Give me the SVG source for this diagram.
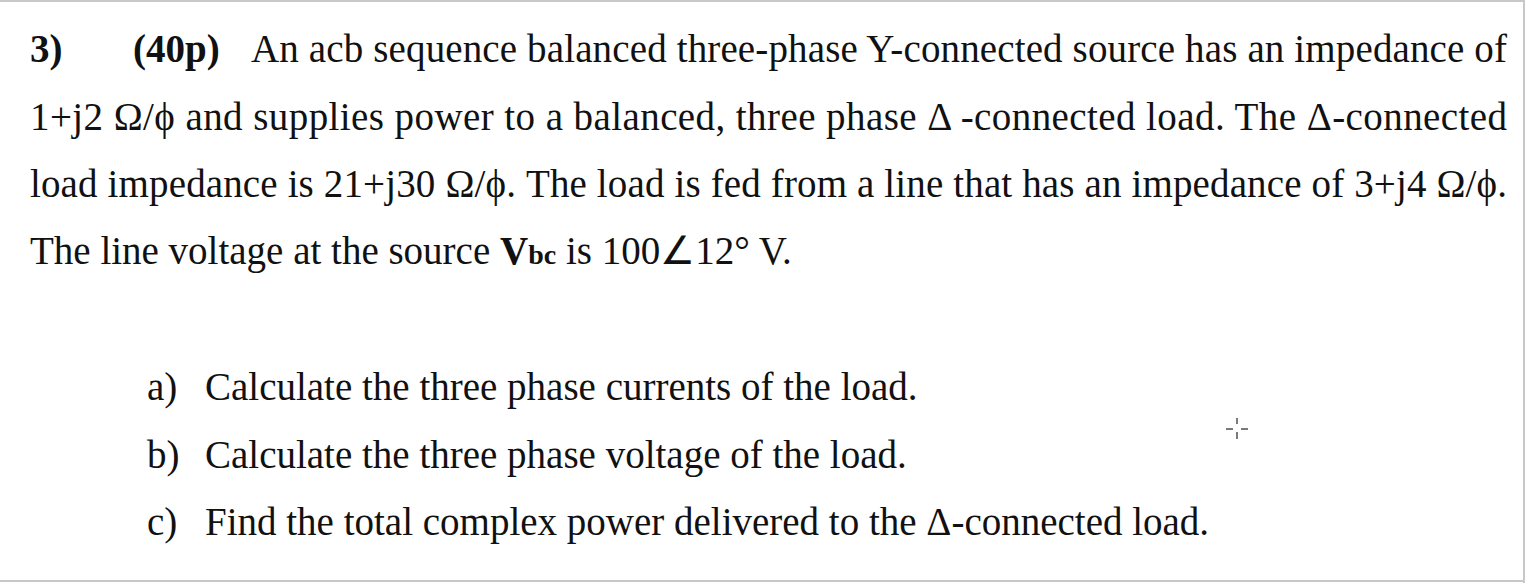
<svg xmlns="http://www.w3.org/2000/svg" width="1525" height="583" viewBox="0 0 1525 583">
<style>
text{font-family:"Liberation Serif","Times New Roman",serif;font-size:39px;fill:#111}
.b{font-weight:bold}
.edge{stroke:#c8c8c8;stroke-width:2}
</style>
<rect width="1525" height="583" fill="#fff"/>
<line class="edge" x1="0" y1="1" x2="1525" y2="1"/>
<line class="edge" x1="0" y1="581" x2="1525" y2="581"/>
<line class="edge" x1="1524" y1="0" x2="1524" y2="583"/>
<g id="paragraph">
<text x="30" y="62" class="b">3)</text>
<text x="133" y="62"><tspan class="b">(40p)</tspan></text>
<text x="251" y="62" textLength="1256" lengthAdjust="spacing">An acb sequence balanced three-phase Y-connected source has an impedance of</text>
<text x="30" y="130" textLength="1477" lengthAdjust="spacing">1+j2 Ω/ϕ and supplies power to a balanced, three phase  Δ -connected load. The Δ-connected</text>
<text x="30" y="197" textLength="1477" lengthAdjust="spacing">load impedance is 21+j30 Ω/ϕ. The load is fed from a line that has an impedance of  3+j4 Ω/ϕ.</text>
<text x="30" y="264">The line voltage at the source <tspan class="b">V</tspan><tspan class="b" font-size="28">bc</tspan> is 100∠12° V.</text>
</g>
<g id="items">
<text x="147" y="400">a)</text><text x="205" y="400">Calculate the three phase currents of the load.</text>
<text x="147" y="468">b)</text><text x="205" y="468">Calculate the three phase voltage of the load.</text>
<text x="147" y="535">c)</text><text x="205" y="535">Find the total complex power delivered to the Δ-connected load.</text>
</g>
<g id="cursor" stroke="#222" stroke-width="1.2">
<line x1="1237" y1="418" x2="1237" y2="424"/><line x1="1237" y1="432" x2="1237" y2="439"/>
<line x1="1226" y1="429" x2="1233" y2="429"/><line x1="1241" y1="429" x2="1248" y2="429"/>
</g>
</svg>
